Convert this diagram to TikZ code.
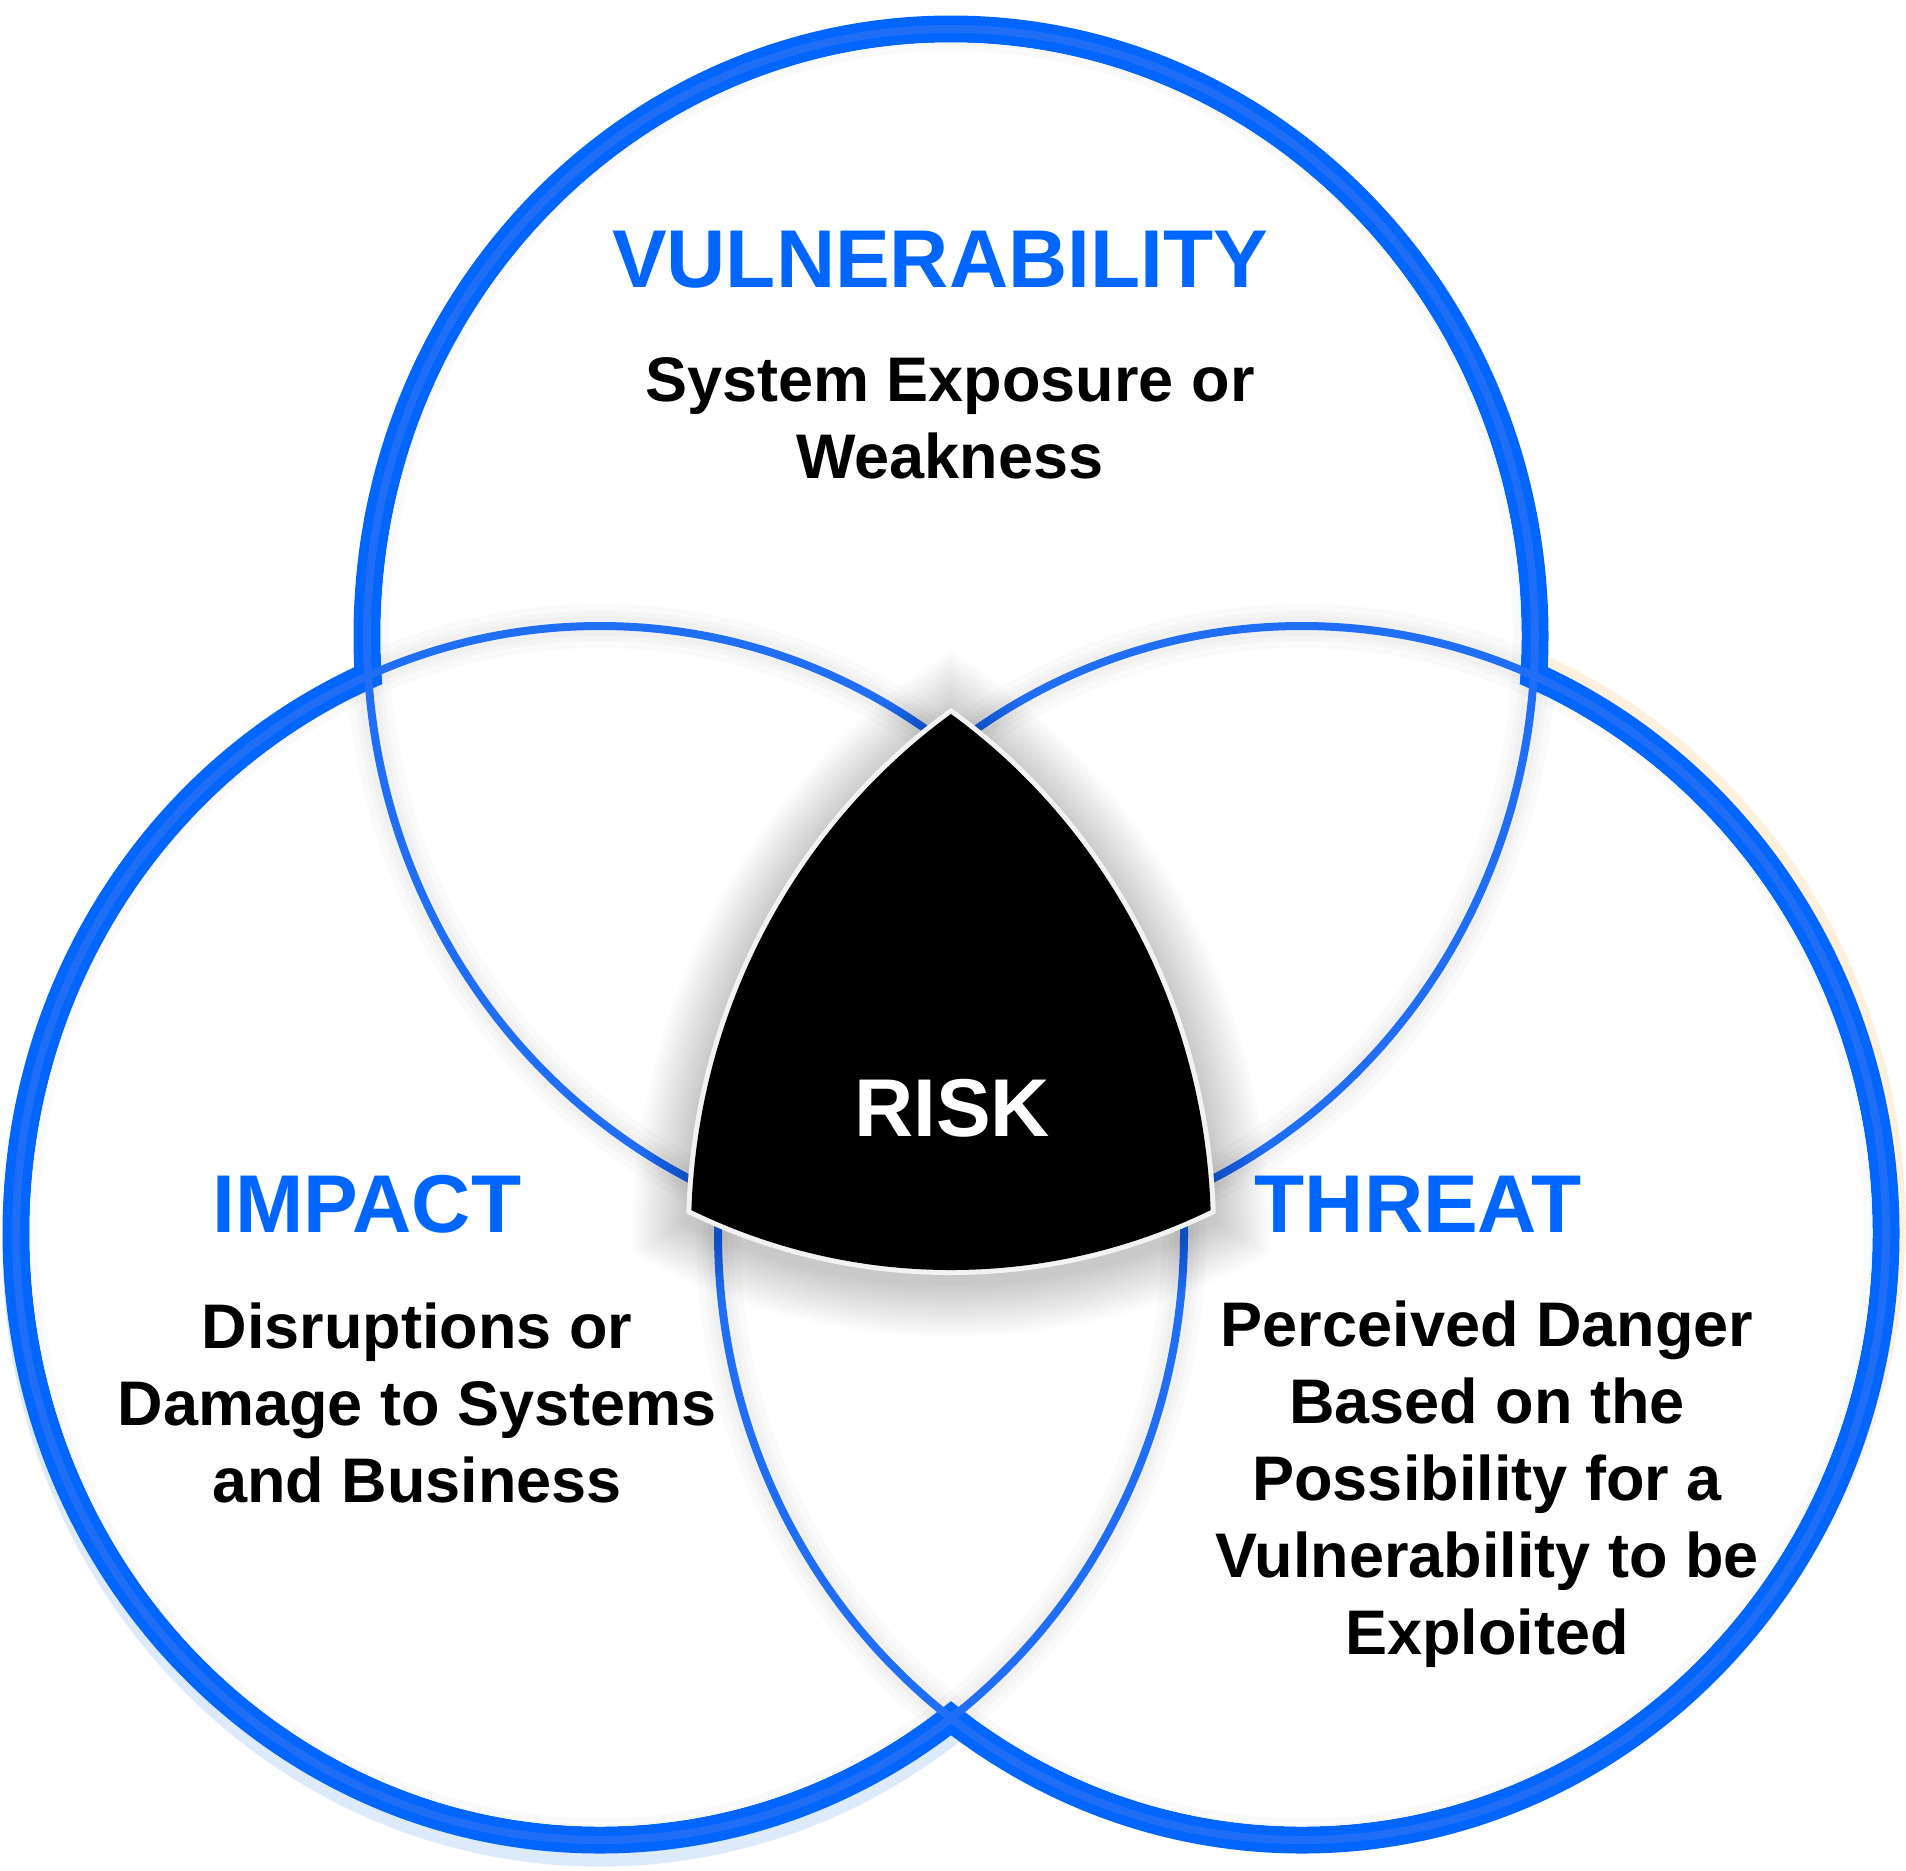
\documentclass[tikz,border=0pt]{standalone}
\usepackage{fontspec}
\setmainfont{Liberation Sans}
\definecolor{vblue}{HTML}{0066FF}
\definecolor{thinblue}{HTML}{1F6EF5}
\definecolor{lblue}{HTML}{DDEAFB}
\definecolor{beige}{HTML}{FDF1DE}
\tikzset{
  titletext/.style={text=vblue, font=\fontsize{41}{49}\selectfont\bfseries, inner sep=0pt, anchor=base},
  bodytext/.style={text=black, font=\fontsize{31.5}{38.5}\selectfont\bfseries, inner sep=0pt, align=center, anchor=base},
  risktext/.style={text=white, font=\fontsize{41}{49}\selectfont\bfseries, inner sep=0pt, anchor=base},
  thickring/.style={draw=vblue, line width=13.5pt},
  thinring/.style={draw=thinblue, line width=4pt}
}
\begin{document}
\begin{tikzpicture}[x=0.5pt,y=-0.5pt]
\def\RX{584}\def\RY{607}
\useasboundingbox (0,0) rectangle (1906,1870);
\fill[white] (0,0) rectangle (1906,1870);
% soft coloured shadows
\draw[lblue, line width=13.5pt] (600,1246) ellipse [x radius=\RX, y radius=\RY];
\draw[beige, line width=13.5pt] (1308,1225) ellipse [x radius=\RX, y radius=\RY];
% thick outer rings
\foreach \cx/\cy in {951/636,600/1233,1302/1233}
  \path[thickring] (\cx,\cy) ellipse [x radius=\RX, y radius=\RY];
% white interiors
\foreach \cx/\cy in {951/636,600/1233,1302/1233}
  \fill[white] (\cx,\cy) ellipse [x radius=\RX-13.5, y radius=\RY-13.5];
% faint glow along inner lines
\begin{scope}
  \clip (951,636) ellipse [x radius=\RX-13.5, y radius=\RY-13.5]
        (600,1233) ellipse [x radius=\RX-13.5, y radius=\RY-13.5]
        (1302,1233) ellipse [x radius=\RX-13.5, y radius=\RY-13.5];
  \foreach \w in {22pt,15pt,10pt}
    \foreach \cx/\cy in {951/636,600/1233,1302/1233}
      \draw[black, opacity=0.02, line width=\w] (\cx,\cy) ellipse [x radius=\RX, y radius=\RY];
\end{scope}
% thin inner lines
\foreach \cx/\cy in {951/636,600/1233,1302/1233}
  \path[thinring] (\cx,\cy) ellipse [x radius=\RX, y radius=\RY];
% soft glow of the risk shape
\foreach \d in {35,38,...,86} {
  \begin{scope}[shift={(0,8)}]
    \clip (951,636) ellipse [x radius=\RX+\d, y radius=\RY+\d];
    \clip (600,1233) ellipse [x radius=\RX+\d, y radius=\RY+\d];
    \fill[black, opacity=0.012] (1302,1233) ellipse [x radius=\RX+\d, y radius=\RY+\d];
  \end{scope}
}
% pale rim
\begin{scope}
  \clip (951,636) ellipse [x radius=\RX+32, y radius=\RY+32];
  \clip (600,1233) ellipse [x radius=\RX+32, y radius=\RY+32];
  \fill[white!95!black] (1302,1233) ellipse [x radius=\RX+32, y radius=\RY+32];
\end{scope}
% black risk shape
\begin{scope}
  \clip (951,636) ellipse [x radius=\RX+27, y radius=\RY+27];
  \clip (600,1233) ellipse [x radius=\RX+27, y radius=\RY+27];
  \fill[black] (1302,1233) ellipse [x radius=\RX+27, y radius=\RY+27];
\end{scope}
% texts
\node[titletext] (vuln) at (940,287) {VULNERABILITY};
\node[bodytext] (vulntxt) at (950,478) {System Exposure or\\Weakness};
\node[titletext] (impact) at (367,1232) {IMPACT};
\node[bodytext] (impacttxt) at (417,1502) {Disruptions or\\Damage to Systems\\and Business};
\node[titletext] (threat) at (1418,1232) {THREAT};
\node[bodytext] (threattxt) at (1487,1654) {Perceived Danger\\Based on the\\Possibility for a\\Vulnerability to be\\Exploited};
\node[risktext] (risk) at (952,1136) {RISK};
\end{tikzpicture}
\end{document}
